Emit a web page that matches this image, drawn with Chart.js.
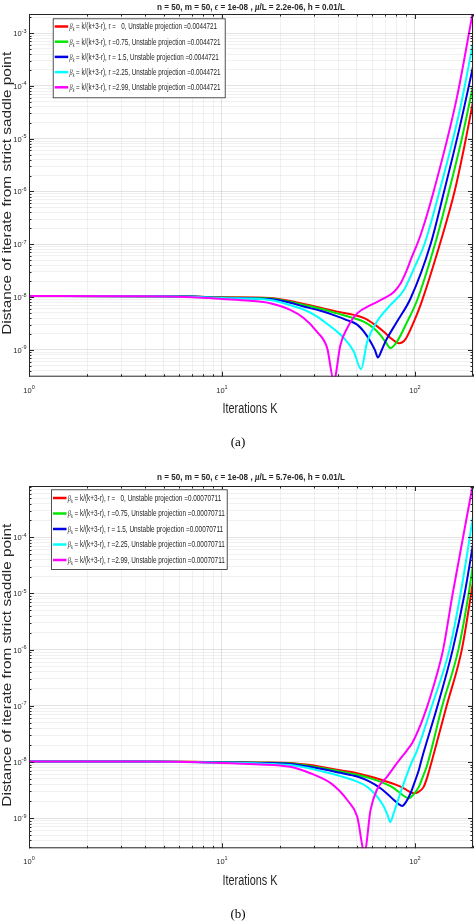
<!DOCTYPE html>
<html>
<head>
<meta charset="utf-8">
<script src="https://cdn.jsdelivr.net/npm/chart.js@4.4.1/dist/chart.umd.min.js"></script>
<style>
  html, body { margin: 0; padding: 0; background: #fff; }
  body { width: 474px; height: 922px; position: relative; overflow: hidden; }
  canvas { position: absolute; left: 0; background: #fff; }
  #chartA { top: 0; }
  #chartB { top: 460px; }
</style>
</head>
<body>
<canvas id="chartA" width="474" height="460"></canvas>
<canvas id="chartB" width="474" height="462"></canvas>
<script>
// ---- data (iteration k, distance) ----
const kRange = [1, 200];
const xTickExps = [0, 1, 2];
const yTickExpsA = [-9, -8, -7, -6, -5, -4, -3];
const yTickExpsB = [-9, -8, -7, -6, -5, -4];
const yRangeA = [3.1e-10, 2.3e-3];
const yRangeB = [2.9e-10, 8.2e-4];

const rLabels = ['   0', '0.75', ' 1.5', '2.25', '2.99'];
const projA = '0.0044721';
const projB = '0.00070711';
const muLA = '2.2e-06';
const muLB = '5.7e-06';

// panel (a)
const redA = [[1,1.05e-8],[4,1.04e-8],[7,1.02e-8],[10,9.9e-9],[17.8,9.6e-9],[22.6,8.4e-9],[26.5,7.4e-9],[32.4,6.3e-9],[39.6,5.3e-9],[48.2,4.6e-9],[54.6,4e-9],[62,3e-9],[69,2.2e-9],[76,1.6e-9],[82.6,1.33e-9],[89.4,1.6e-9],[98.7,3.4e-9],[107,7.1e-9],[134.6,1e-7],[160.5,1e-6],[180,6.9e-6],[200,5e-5]];
const greenA = [[1,1.05e-8],[4,1.04e-8],[7,1.02e-8],[10,9.8e-9],[17.8,9.4e-9],[22.6,8.1e-9],[26.5,7.1e-9],[32.4,6e-9],[39.6,4.9e-9],[47,4.1e-9],[54.6,3.4e-9],[61,2.6e-9],[66.3,1.9e-9],[71,1.35e-9],[74.7,1.08e-9],[80.7,1.43e-9],[91.2,3.4e-9],[102.8,8.8e-9],[127,1e-7],[150,1e-6],[175,1e-5],[200,1e-4]];
const blueA = [[1,1.05e-8],[4,1.04e-8],[7,1.02e-8],[10,9.7e-9],[17.8,9.2e-9],[22.6,7.8e-9],[26.5,6.6e-9],[32.4,5.5e-9],[39.6,4.3e-9],[44,3.7e-9],[50.2,3e-9],[55,2.1e-9],[58.9,1.43e-9],[62,1e-9],[64.3,7.2e-10],[67,9.5e-10],[70.3,1.43e-9],[80.7,3.4e-9],[94.9,9.4e-9],[120.5,1e-7],[141.6,1e-6],[170,1.55e-5],[200,2.3e-4]];
const cyanA = [[1,1.05e-8],[4,1.04e-8],[7,1.01e-8],[10,9.6e-9],[17.8,8.8e-9],[22.6,7e-9],[26.5,5.8e-9],[31,4.3e-9],[35.1,3.1e-9],[39,2.3e-9],[42.9,1.66e-9],[48.2,9.3e-10],[52.6,4.3e-10],[56.5,1.4e-9],[63.5,3.4e-9],[74.7,7.1e-9],[87.6,1.35e-8],[100,3.8e-8],[112,1e-7],[134,1e-6],[170,3.2e-5],[200,6.4e-4]];
const magentaA = [[1,1.05e-8],[4,1.04e-8],[7,9.9e-9],[10,9.2e-9],[14,8.5e-9],[17.8,7.6e-9],[22.6,5.7e-9],[26.5,4e-9],[31.1,2.2e-9],[35.1,1.08e-9],[38,2.6e-10],[41.1,1.24e-9],[44.6,2.6e-9],[50.2,4.9e-9],[58.9,7e-9],[69,9.4e-9],[77.8,1.25e-8],[84.2,1.8e-8],[90,3e-8],[95,5e-8],[107,1.5e-7],[125,1e-6],[165,6e-5],[200,2.6e-3]];

// panel (b)
const redB = [[1,1.02e-8],[4,1.02e-8],[10,9.9e-9],[16,9.8e-9],[22.6,9.6e-9],[28,8.9e-9],[33.6,8.05e-9],[41,7.1e-9],[50.2,6.3e-9],[60,5.4e-9],[71.8,4.45e-9],[80,3.9e-9],[87.6,3.4e-9],[93,3e-9],[98.7,2.77e-9],[104,2.9e-9],[111,3.6e-9],[117,6e-9],[122,1e-8],[146,1e-7],[175,1e-6],[200,1.6e-5]];
const greenB = [[1,1.02e-8],[4,1.02e-8],[10,9.9e-9],[16,9.7e-9],[22.6,9.4e-9],[28,8.6e-9],[33.6,7.7e-9],[41,6.8e-9],[50.2,5.9e-9],[60,5e-9],[69,4.2e-9],[77,3.5e-9],[84.2,2.77e-9],[89,2.4e-9],[93,2.25e-9],[98,2.6e-9],[104.8,3.6e-9],[110,5.5e-9],[115,8.2e-9],[138.6,1e-7],[168,1e-6],[190,1e-5],[200,3.3e-5]];
const blueB = [[1,1.02e-8],[4,1.02e-8],[10,9.8e-9],[16,9.6e-9],[22.6,9.2e-9],[28,8.3e-9],[33.6,7.4e-9],[41,6.4e-9],[50.2,5.5e-9],[58,4.5e-9],[66.3,3.4e-9],[72,2.7e-9],[77.8,2.1e-9],[82,1.8e-9],[85.9,1.65e-9],[90,1.95e-9],[94.9,2.77e-9],[100,4.5e-9],[104.8,7.2e-9],[109,1.2e-8],[131,1e-7],[157,1e-6],[181,1e-5],[200,7.5e-5]];
const cyanB = [[1,1.02e-8],[4,1.02e-8],[10,9.7e-9],[16,9.4e-9],[22.6,8.8e-9],[28,7.8e-9],[33.6,6.7e-9],[41,5.6e-9],[50.2,4.45e-9],[56,3.7e-9],[61.3,2.8e-9],[65,2.2e-9],[69,1.6e-9],[72,1.15e-9],[74.5,8.5e-10],[77.5,1.2e-9],[80.7,1.84e-9],[87.6,4.2e-9],[94.9,8.8e-9],[102.8,1.63e-8],[122.5,1e-7],[151,1e-6],[172.5,1e-5],[200,2.3e-4]];
const magentaB = [[1,1.02e-8],[4,1.02e-8],[10,9.6e-9],[15,9.1e-9],[22.6,8.2e-9],[28.7,6.3e-9],[36.6,4.2e-9],[40.5,3.1e-9],[44.6,2.1e-9],[50.2,1.07e-9],[54.8,2.5e-10],[58.9,1.4e-9],[63.5,3.2e-9],[71.8,5.5e-9],[80.7,9.5e-9],[91.2,1.63e-8],[97,2.2e-8],[111,6.4e-8],[130.5,3.8e-7],[140,1e-6],[157,1e-5],[200,9e-4]];

// ---- styling ----
const colors = ['#ff0000', '#00e600', '#0000e6', '#00ffff', '#ff00ff'];
const SANS = '"Liberation Sans", Arial, Helvetica, sans-serif';
const SERIF = '"Liberation Serif", "DejaVu Serif", serif';
const INK = '#262626';
const GRID_MAJOR = 'rgba(38,38,38,0.13)';
const GRID_MINOR = 'rgba(38,38,38,0.065)';

function logTicks(lo, hi) {
  const out = [];
  for (let e = Math.floor(Math.log10(lo)); e <= Math.floor(Math.log10(hi)); e++) {
    for (let s = 1; s <= 9; s++) {
      const v = s * Math.pow(10, e);
      if (v >= lo * 0.999 && v <= hi * 1.001) out.push({ value: v, major: s === 1 });
    }
  }
  return out;
}

function runsWidth(ctx, runs) {
  let w = 0;
  for (const r of runs) { ctx.font = r.font; w += ctx.measureText(r.text).width; }
  return w;
}

function drawRuns(ctx, runs, x, y, align, sx, color) {
  const w = runsWidth(ctx, runs) * sx;
  const x0 = align === 'center' ? x - w / 2 : align === 'right' ? x - w : x;
  ctx.save();
  ctx.fillStyle = color || INK;
  ctx.textAlign = 'left';
  ctx.textBaseline = 'alphabetic';
  ctx.translate(x0, y);
  ctx.scale(sx, 1);
  let cx = 0;
  for (const r of runs) {
    ctx.font = r.font;
    ctx.fillText(r.text, cx, r.dy || 0);
    cx += ctx.measureText(r.text).width;
  }
  ctx.restore();
}

function powerRuns(e) {
  return [
    { text: '10', font: '7.5px ' + SANS },
    { text: String(e), font: '5.5px ' + SANS, dy: -3.5 }
  ];
}

function makeFrame(P) {
  return {
    id: 'frame' + P.caption,
    afterDraw(chart) {
      const { ctx, chartArea: a } = chart;
      const x = chart.scales.x, y = chart.scales.y;
      ctx.save();
      ctx.strokeStyle = INK;
      ctx.lineWidth = 1;
      ctx.beginPath();
      // tick marks on all four sides, pointing inwards
      x.ticks.forEach(t => {
        const px = Math.round(x.getPixelForValue(t.value)) + 0.5;
        const len = t.major ? 5 : 2.5;
        ctx.moveTo(px, a.bottom); ctx.lineTo(px, a.bottom - len);
        ctx.moveTo(px, a.top); ctx.lineTo(px, a.top + len);
      });
      y.ticks.forEach(t => {
        const py = Math.round(y.getPixelForValue(t.value)) + 0.5;
        const len = t.major ? 5 : 2.5;
        ctx.moveTo(a.left, py); ctx.lineTo(a.left + len, py);
        ctx.moveTo(a.right, py); ctx.lineTo(a.right - len, py);
      });
      ctx.stroke();
      ctx.strokeRect(a.left + 0.5, a.top + 0.5, a.right - a.left - 1, a.bottom - a.top - 1);
      ctx.restore();

      // tick labels
      P.xTickExps.forEach(e => {
        drawRuns(ctx, powerRuns(e), x.getPixelForValue(Math.pow(10, e)), P.L.tickLabelY, 'center', 1);
      });
      P.yTickExps.forEach(e => {
        drawRuns(ctx, powerRuns(e), a.left - 2.5, y.getPixelForValue(Math.pow(10, e)) + 3, 'right', 1);
      });

      // title
      const b = 'bold 9.5px ' + SANS, bi = 'bold italic 9.5px ' + SERIF;
      const titleRuns = [
        { text: 'n = 50, m = 50, ', font: b },
        { text: 'ϵ', font: bi },
        { text: ' = 1e-08 , ', font: b },
        { text: 'μ', font: bi },
        { text: '/L = ' + P.muL + ', h = 0.01/L', font: b }
      ];
      drawRuns(ctx, titleRuns, 251, P.L.titleY, 'center', 188 / runsWidth(ctx, titleRuns));

      // axis labels
      const xl = [{ text: 'Iterations K', font: '14px ' + SANS }];
      drawRuns(ctx, xl, 250, P.L.xLabelY, 'center', 55 / runsWidth(ctx, xl));
      const yl = [{ text: 'Distance of iterate from strict saddle point', font: '12.5px ' + SANS }];
      ctx.save();
      ctx.translate(10.5, (a.top + a.bottom) / 2 - 2);
      ctx.rotate(-Math.PI / 2);
      drawRuns(ctx, yl, 0, 0, 'center', 283 / runsWidth(ctx, yl));
      ctx.restore();

      // caption
      drawRuns(ctx, [{ text: P.caption, font: '13px ' + SERIF }], 238, P.L.captionY, 'center', 1, '#000');

      // legend
      const [l, t, r, bt] = P.L.legendBox;
      ctx.save();
      ctx.fillStyle = '#fff';
      ctx.fillRect(l, t, r - l, bt - t);
      ctx.strokeStyle = INK;
      ctx.lineWidth = 0.8;
      ctx.strokeRect(l + 0.5, t + 0.5, r - l - 1, bt - t - 1);
      ctx.restore();
      const rows = rLabels.map(rl => [
        { text: 'β', font: 'italic 9px ' + SERIF },
        { text: 'k', font: 'italic 5.5px ' + SERIF, dy: 2 },
        { text: ' = k/(k+3-r), r =' + rl + ', Unstable projection =' + P.proj, font: '9px ' + SANS }
      ]);
      const maxW = Math.max(...rows.map(rw => runsWidth(ctx, rw)));
      const sx = P.L.legendTextW / maxW;
      rows.forEach((rw, i) => {
        const ry = P.L.legendRows[i];
        ctx.save();
        ctx.strokeStyle = colors[i];
        ctx.lineWidth = 2.5;
        ctx.beginPath();
        ctx.moveTo(l + 2, ry); ctx.lineTo(l + 15.5, ry);
        ctx.stroke();
        ctx.restore();
        drawRuns(ctx, rw, l + 16.8, ry + 2.8, 'left', sx);
      });
    }
  };
}

function buildPanel(canvasId, series, yRange, yTickExps, muL, proj, caption, L) {
  const canvas = document.getElementById(canvasId);
  const W = canvas.width, H = canvas.height;
  const xTicks = logTicks(kRange[0], kRange[1]);
  const yTicks = logTicks(yRange[0], yRange[1]);
  const gridColor = c => (c.tick && c.tick.major ? GRID_MAJOR : GRID_MINOR);
  const P = { xTickExps, yTickExps, muL, proj, caption, L };
  return new Chart(canvas.getContext('2d'), {
    type: 'line',
    data: {
      datasets: series.map((pts, i) => ({
        data: pts,
        borderColor: colors[i],
        borderWidth: 2,
        pointRadius: 0,
        fill: false,
        cubicInterpolationMode: 'monotone',
        order: series.length - i,
        clip: 0
      }))
    },
    options: {
      responsive: false,
      animation: false,
      events: [],
      layout: {
        autoPadding: false,
        padding: { left: L.area[0], top: L.area[1], right: W - L.area[2], bottom: H - L.area[3] }
      },
      elements: { line: { capBezierPoints: false } },
      plugins: { legend: { display: false }, title: { display: false }, tooltip: { enabled: false } },
      scales: {
        x: {
          type: 'logarithmic', min: kRange[0], max: kRange[1],
          afterBuildTicks: s => { s.ticks = xTicks.map(t => ({ ...t })); },
          afterFit: s => { s.height = 0; },
          ticks: { display: false },
          border: { display: false },
          grid: { drawTicks: false, color: gridColor, lineWidth: 1 }
        },
        y: {
          type: 'logarithmic', min: yRange[0], max: yRange[1],
          afterBuildTicks: s => { s.ticks = yTicks.map(t => ({ ...t })); },
          afterFit: s => { s.width = 0; },
          ticks: { display: false },
          border: { display: false },
          grid: { drawTicks: false, color: gridColor, lineWidth: 1 }
        }
      }
    },
    plugins: [makeFrame(P)]
  });
}

buildPanel('chartA', [redA, greenA, blueA, cyanA, magentaA], yRangeA, yTickExpsA, muLA, projA, '(a)', {
  area: [29, 14, 473, 376.7], titleY: 9.5, tickLabelY: 392.5, xLabelY: 413.3, captionY: 446,
  legendBox: [52.7, 18.3, 225.7, 98.3], legendRows: [26.5, 41.7, 56.9, 72.1, 87.3], legendTextW: 151
});
buildPanel('chartB', [redB, greenB, blueB, cyanB, magentaB], yRangeB, yTickExpsB, muLB, projB, '(b)', {
  area: [29, 26, 473, 388.3], titleY: 20, tickLabelY: 403.5, xLabelY: 425, captionY: 457.5,
  legendBox: [51, 29.3, 227.7, 110], legendRows: [38, 53.5, 69, 84.5, 100], legendTextW: 157
});
</script>
</body>
</html>
